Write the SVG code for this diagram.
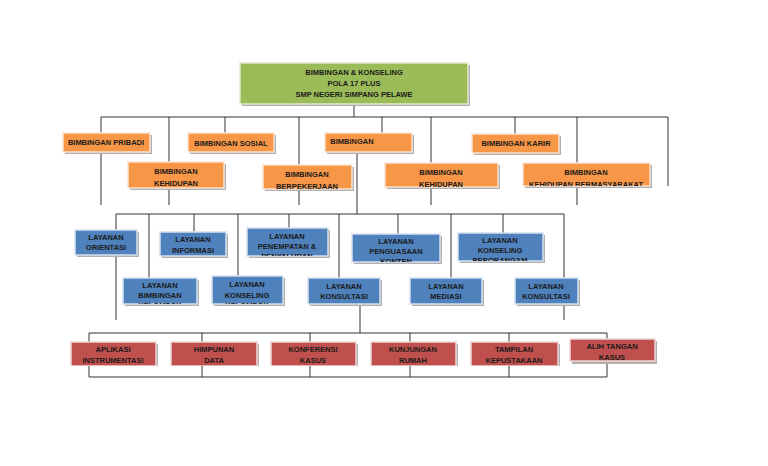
<svg xmlns="http://www.w3.org/2000/svg" width="768" height="466" viewBox="0 0 768 466">
<style>
text{font-family:"Liberation Sans",Arial,sans-serif;font-weight:bold;font-size:7.5px;fill:#1a1a1a;text-anchor:middle}
.g{fill:#9BBB59;stroke:#e0e8cc;stroke-width:1.5}
.o{fill:#F79646;stroke:#fbe2cf;stroke-width:1.5}
.b{fill:#4F81BD;stroke:#d5e0ef;stroke-width:1.5}
.r{fill:#C0504D;stroke:#f0d5d4;stroke-width:1.5}
.sh{fill:#b0b0b0}
.c line{stroke:#333;stroke-width:1}
</style>
<rect width="768" height="466" fill="#fff"/>
<g class="c" id="connectors">
<line x1="354" y1="104" x2="354" y2="117"/>
<line x1="101" y1="117" x2="668" y2="117"/>
<line x1="101" y1="117" x2="101" y2="205"/>
<line x1="169" y1="117" x2="169" y2="205"/>
<line x1="225" y1="117" x2="225" y2="134"/>
<line x1="299" y1="117" x2="299" y2="205"/>
<line x1="382" y1="117" x2="382" y2="133"/>
<line x1="431" y1="117" x2="431" y2="205"/>
<line x1="515" y1="117" x2="515" y2="134"/>
<line x1="577" y1="117" x2="577" y2="205"/>
<line x1="668" y1="117" x2="668" y2="186"/>
<line x1="357" y1="152" x2="357" y2="214"/>
<line x1="116" y1="214" x2="564" y2="214"/>
<line x1="116" y1="214" x2="116" y2="320"/>
<line x1="149" y1="214" x2="149" y2="278"/>
<line x1="194" y1="214" x2="194" y2="232"/>
<line x1="238" y1="214" x2="238" y2="276"/>
<line x1="289" y1="214" x2="289" y2="228"/>
<line x1="339" y1="214" x2="339" y2="278"/>
<line x1="398" y1="214" x2="398" y2="234"/>
<line x1="451" y1="214" x2="451" y2="278"/>
<line x1="503" y1="214" x2="503" y2="233"/>
<line x1="564" y1="214" x2="564" y2="320"/>
<line x1="360" y1="305" x2="360" y2="333"/>
<line x1="89" y1="333" x2="607" y2="333"/>
<line x1="89" y1="377" x2="607" y2="377"/>
<line x1="89" y1="333" x2="89" y2="377"/>
<line x1="202" y1="333" x2="202" y2="377"/>
<line x1="310" y1="333" x2="310" y2="377"/>
<line x1="410" y1="333" x2="410" y2="377"/>
<line x1="509" y1="333" x2="509" y2="377"/>
<line x1="607" y1="333" x2="607" y2="377"/>
</g>
<g id="top"><rect class="sh" x="242" y="65" width="228" height="41"/><rect class="g" x="240" y="63" width="228" height="41"/>
<text x="354" y="75">BIMBINGAN &amp; KONSELING</text><text x="354" y="86">POLA 17 PLUS</text><text x="354" y="97">SMP NEGERI SIMPANG PELAWE</text></g>
<defs>
<clipPath id="k1"><rect x="128" y="162" width="96" height="26"/></clipPath>
<clipPath id="k2"><rect x="263" y="165" width="89" height="24"/></clipPath>
<clipPath id="k3"><rect x="385" y="163" width="113" height="24"/></clipPath>
<clipPath id="k4"><rect x="523" y="163" width="127" height="23"/></clipPath>
<clipPath id="l3"><rect x="247" y="228" width="81" height="28"/></clipPath>
<clipPath id="l4"><rect x="352" y="234" width="88" height="28"/></clipPath>
<clipPath id="l5"><rect x="458" y="233" width="85" height="28"/></clipPath>
<clipPath id="m1"><rect x="123" y="278" width="74" height="26"/></clipPath>
<clipPath id="m2"><rect x="212" y="276" width="71" height="28"/></clipPath>
<clipPath id="r"><rect x="0" y="338" width="768" height="28"/></clipPath>
</defs>
<g id="pribadi"><rect class="sh" x="65" y="135" width="87" height="19"/><rect class="o" x="63" y="133" width="87" height="19"/><text x="106" y="145">BIMBINGAN PRIBADI</text></g>
<g id="sosial"><rect class="sh" x="190" y="135" width="86" height="19"/><rect class="o" x="188" y="133" width="86" height="19"/><text x="231" y="146">BIMBINGAN SOSIAL</text></g>
<g id="bimb"><rect class="sh" x="327" y="135" width="87" height="19"/><rect class="o" x="325" y="133" width="87" height="19"/><text x="352" y="144">BIMBINGAN</text></g>
<g id="karir"><rect class="sh" x="474" y="136" width="87" height="19"/><rect class="o" x="472" y="134" width="87" height="19"/><text x="516" y="146">BIMBINGAN KARIR</text></g>
<g id="keh1"><rect class="sh" x="130" y="164" width="96" height="26"/><rect class="o" x="128" y="162" width="96" height="26"/><g clip-path="url(#k1)"><text x="176" y="174">BIMBINGAN</text><text x="176" y="186">KEHIDUPAN</text></g></g>
<g id="kerja"><rect class="sh" x="265" y="167" width="89" height="24"/><rect class="o" x="263" y="165" width="89" height="24"/><g clip-path="url(#k2)"><text x="307" y="177">BIMBINGAN</text><text x="307" y="189">BERPEKERJAAN</text></g></g>
<g id="keh2"><rect class="sh" x="387" y="165" width="113" height="24"/><rect class="o" x="385" y="163" width="113" height="24"/><g clip-path="url(#k3)"><text x="441" y="175">BIMBINGAN</text><text x="441" y="187">KEHIDUPAN</text></g></g>
<g id="masy"><rect class="sh" x="525" y="165" width="127" height="23"/><rect class="o" x="523" y="163" width="127" height="23"/><g clip-path="url(#k4)"><text x="586" y="175">BIMBINGAN</text><text x="586" y="187">KEHIDUPAN BERMASYARAKAT</text></g></g>
<g id="orientasi"><rect class="sh" x="77" y="232" width="62" height="25"/><rect class="b" x="75" y="230" width="62" height="25"/><text x="106" y="240">LAYANAN</text><text x="106" y="250">ORIENTASI</text></g>
<g id="informasi"><rect class="sh" x="162" y="234" width="66" height="24"/><rect class="b" x="160" y="232" width="66" height="24"/><text x="193" y="242">LAYANAN</text><text x="193" y="253">INFORMASI</text></g>
<g id="penempatan"><rect class="sh" x="249" y="230" width="81" height="28"/><rect class="b" x="247" y="228" width="81" height="28"/><g clip-path="url(#l3)"><text x="287" y="239">LAYANAN</text><text x="287" y="249">PENEMPATAN &amp;</text><text x="287" y="259">PENYALURAN</text></g></g>
<g id="penguasaan"><rect class="sh" x="354" y="236" width="88" height="28"/><rect class="b" x="352" y="234" width="88" height="28"/><g clip-path="url(#l4)"><text x="396" y="244">LAYANAN</text><text x="396" y="254">PENGUASAAN</text><text x="396" y="264">KONTEN</text></g></g>
<g id="perorangan"><rect class="sh" x="460" y="235" width="85" height="28"/><rect class="b" x="458" y="233" width="85" height="28"/><g clip-path="url(#l5)"><text x="500" y="243">LAYANAN</text><text x="500" y="253">KONSELING</text><text x="500" y="263">PERORANGAM</text></g></g>
<g id="bkel"><rect class="sh" x="125" y="280" width="74" height="26"/><rect class="b" x="123" y="278" width="74" height="26"/><g clip-path="url(#m1)"><text x="160" y="288">LAYANAN</text><text x="160" y="298">BIMBINGAN</text><text x="160" y="308">KELOMPOK</text></g></g>
<g id="kkel"><rect class="sh" x="214" y="278" width="71" height="28"/><rect class="b" x="212" y="276" width="71" height="28"/><g clip-path="url(#m2)"><text x="247" y="287">LAYANAN</text><text x="247" y="298">KONSELING</text><text x="247" y="308">KELOMPOK</text></g></g>
<g id="konsultasi1"><rect class="sh" x="310" y="280" width="72" height="26"/><rect class="b" x="308" y="278" width="72" height="26"/><text x="344" y="289">LAYANAN</text><text x="344" y="299">KONSULTASI</text></g>
<g id="mediasi"><rect class="sh" x="412" y="280" width="72" height="26"/><rect class="b" x="410" y="278" width="72" height="26"/><text x="446" y="289">LAYANAN</text><text x="446" y="299">MEDIASI</text></g>
<g id="konsultasi2"><rect class="sh" x="517" y="280" width="63" height="26"/><rect class="b" x="515" y="278" width="63" height="26"/><text x="546" y="289">LAYANAN</text><text x="546" y="299">KONSULTASI</text></g>
<g clip-path="url(#r)">
<g id="aplikasi"><rect class="sh" x="73" y="344" width="85" height="24"/><rect class="r" x="71" y="342" width="85" height="24"/><text x="113" y="352">APLIKASI</text><text x="113" y="363">INSTRUMENTASI</text></g>
<g id="himpunan"><rect class="sh" x="173" y="344" width="86" height="24"/><rect class="r" x="171" y="342" width="86" height="24"/><text x="214" y="352">HIMPUNAN</text><text x="214" y="363">DATA</text></g>
<g id="konferensi"><rect class="sh" x="273" y="344" width="85" height="24"/><rect class="r" x="271" y="342" width="85" height="24"/><text x="313" y="352">KONFERENSI</text><text x="313" y="363">KASUS</text></g>
<g id="kunjungan"><rect class="sh" x="373" y="344" width="85" height="24"/><rect class="r" x="371" y="342" width="85" height="24"/><text x="413" y="352">KUNJUNGAN</text><text x="413" y="363">RUMAH</text></g>
<g id="tampilan"><rect class="sh" x="473" y="344" width="87" height="24"/><rect class="r" x="471" y="342" width="87" height="24"/><text x="514" y="352">TAMPILAN</text><text x="514" y="363">KEPUSTAKAAN</text></g>
</g>
<g id="alih"><clipPath id="r2"><rect x="570" y="339" width="85" height="22"/></clipPath><rect class="sh" x="572" y="341" width="85" height="23"/><rect class="r" x="570" y="339" width="85" height="22"/><g clip-path="url(#r2)"><text x="612" y="349">ALIH TANGAN</text><text x="612" y="360">KASUS</text></g></g>
</svg>
